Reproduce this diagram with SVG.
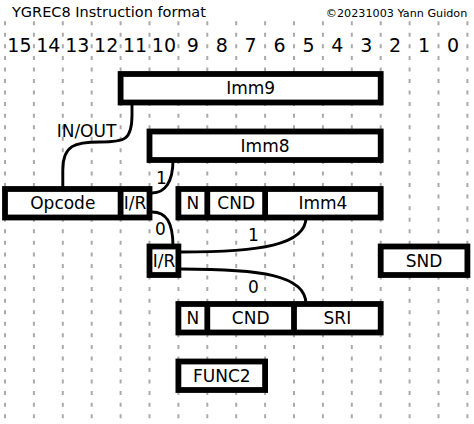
<svg xmlns="http://www.w3.org/2000/svg" width="474" height="424" viewBox="0 0 474 424">
<style>
.grid{stroke:#aaaaaa;stroke-width:2;stroke-dasharray:4 7.56;fill:none}
.box{fill:#ffffff;stroke:#000000;stroke-width:5.8}
.div{stroke:#000000;stroke-width:5.8;fill:none}
.lbl{font-family:"DejaVu Sans",sans-serif;font-size:17px;text-anchor:middle;fill:#000000}
.bit{font-family:"DejaVu Sans",sans-serif;font-size:19px;text-anchor:middle;fill:#000000}
.con{fill:none;stroke:#000000;stroke-width:2.9}
</style>
<rect width="474" height="424" fill="#ffffff"/>
<g id="grid">
<line class="grid" x1="5" y1="21.2" x2="5" y2="424"/>
<line class="grid" x1="33.9" y1="21.2" x2="33.9" y2="424"/>
<line class="grid" x1="62.8" y1="21.2" x2="62.8" y2="424"/>
<line class="grid" x1="91.7" y1="21.2" x2="91.7" y2="424"/>
<line class="grid" x1="120.6" y1="21.2" x2="120.6" y2="424"/>
<line class="grid" x1="149.5" y1="21.2" x2="149.5" y2="424"/>
<line class="grid" x1="178.4" y1="21.2" x2="178.4" y2="424"/>
<line class="grid" x1="207.3" y1="21.2" x2="207.3" y2="424"/>
<line class="grid" x1="236.2" y1="21.2" x2="236.2" y2="424"/>
<line class="grid" x1="265.1" y1="21.2" x2="265.1" y2="424"/>
<line class="grid" x1="294" y1="21.2" x2="294" y2="424"/>
<line class="grid" x1="322.9" y1="21.2" x2="322.9" y2="424"/>
<line class="grid" x1="351.8" y1="21.2" x2="351.8" y2="424"/>
<line class="grid" x1="380.7" y1="21.2" x2="380.7" y2="424"/>
<line class="grid" x1="409.6" y1="21.2" x2="409.6" y2="424"/>
<line class="grid" x1="438.5" y1="21.2" x2="438.5" y2="424"/>
<line class="grid" x1="467.4" y1="21.2" x2="467.4" y2="424"/>
</g>
<g id="header">
<text x="12" y="16.6" font-family="DejaVu Sans, sans-serif" font-size="14.5">YGREC8 Instruction format</text>
<text x="467.3" y="16.6" font-family="DejaVu Sans, sans-serif" font-size="11.2" text-anchor="end">©20231003 Yann Guidon</text>
</g>
<g id="bits">
<text class="bit" x="19.45" y="52.3">15</text>
<text class="bit" x="48.35" y="52.3">14</text>
<text class="bit" x="77.25" y="52.3">13</text>
<text class="bit" x="106.15" y="52.3">12</text>
<text class="bit" x="135.05" y="52.3">11</text>
<text class="bit" x="163.95" y="52.3">10</text>
<text class="bit" x="192.85" y="52.3">9</text>
<text class="bit" x="221.75" y="52.3">8</text>
<text class="bit" x="250.65" y="52.3">7</text>
<text class="bit" x="279.55" y="52.3">6</text>
<text class="bit" x="308.45" y="52.3">5</text>
<text class="bit" x="337.35" y="52.3">4</text>
<text class="bit" x="366.25" y="52.3">3</text>
<text class="bit" x="395.15" y="52.3">2</text>
<text class="bit" x="424.05" y="52.3">1</text>
<text class="bit" x="452.95" y="52.3">0</text>
</g>
<g id="connectors">
<path class="con" d="M132,102.5 L132,115 C132,140 125,142 100,142 C75,142 62.8,145 62.8,170 L62.8,189"/>
<path class="con" d="M173,160 C173,182 165,193 152,193"/>
<path class="con" d="M152,212 C166,212 173,222 173,246.5"/>
<path class="con" d="M306,217.5 C306,245 260,252 181,252"/>
<path class="con" d="M181,269 C260,269 306,275 306,304"/>
<text class="lbl" x="86.5" y="137.3">IN/OUT</text>
<text class="lbl" x="161.5" y="183.5">1</text>
<text class="lbl" x="160.5" y="235.3">0</text>
<text class="lbl" x="253.5" y="240.5">1</text>
<text class="lbl" x="253.5" y="293.2">0</text>
</g>
<g id="imm9">
<rect class="box" x="120.6" y="74" width="260.1" height="28.5"/>
<text class="lbl" x="250.65" y="94.4">Imm9</text>
</g>
<g id="imm8">
<rect class="box" x="149.5" y="131.5" width="231.2" height="28.5"/>
<text class="lbl" x="265.1" y="151.9">Imm8</text>
</g>
<g id="opcode">
<rect class="box" x="5" y="189" width="144.5" height="28.5"/>
<line class="div" x1="120.6" y1="189" x2="120.6" y2="217.5"/>
<text class="lbl" x="62.8" y="209.4">Opcode</text>
<text class="lbl" x="135.05" y="209.4">I/R</text>
</g>
<g id="n-cnd-imm4">
<rect class="box" x="178.4" y="189" width="202.3" height="28.5"/>
<line class="div" x1="207.3" y1="189" x2="207.3" y2="217.5"/>
<line class="div" x1="265.1" y1="189" x2="265.1" y2="217.5"/>
<text class="lbl" x="192.85" y="209.4">N</text>
<text class="lbl" x="236.2" y="209.4">CND</text>
<text class="lbl" x="322.9" y="209.4">Imm4</text>
</g>
<g id="ir2">
<rect class="box" x="149.5" y="246.5" width="28.9" height="28.5"/>
<text class="lbl" x="163.95" y="266.9">I/R</text>
</g>
<g id="snd">
<rect class="box" x="380.7" y="246.5" width="86.7" height="28.5"/>
<text class="lbl" x="424.05" y="266.9">SND</text>
</g>
<g id="n-cnd-sri">
<rect class="box" x="178.4" y="304" width="202.3" height="28.5"/>
<line class="div" x1="207.3" y1="304" x2="207.3" y2="332.5"/>
<line class="div" x1="294" y1="304" x2="294" y2="332.5"/>
<text class="lbl" x="192.85" y="324.4">N</text>
<text class="lbl" x="250.65" y="324.4">CND</text>
<text class="lbl" x="337.35" y="324.4">SRI</text>
</g>
<g id="func2">
<rect class="box" x="178.4" y="361.5" width="86.7" height="28.5"/>
<text class="lbl" x="221.75" y="381.9">FUNC2</text>
</g>
</svg>
